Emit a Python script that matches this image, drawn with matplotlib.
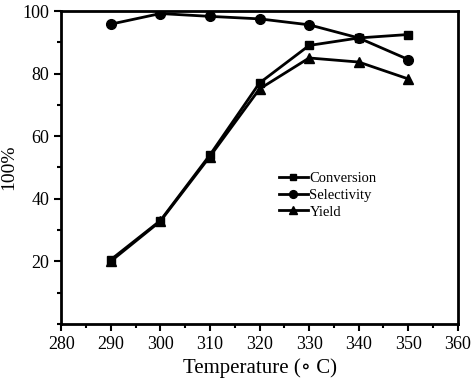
import matplotlib
matplotlib.use('Agg')
import matplotlib.pyplot as plt
from matplotlib.ticker import MultipleLocator

# temperatures (deg C)
temperature = [290, 300, 310, 320, 330, 340, 350]
# percentages
conversion = [20.5, 33.0, 54.0, 77.0, 89.0, 91.4, 92.5]
selectivity = [95.8, 99.2, 98.3, 97.5, 95.6, 91.4, 84.5]
yield_ = [20.0, 32.8, 53.5, 75.1, 85.0, 83.7, 78.3]

plt.rcParams['font.family'] = ['Liberation Serif', 'DejaVu Serif']

fig = plt.figure(figsize=(4.74, 3.81), dpi=100)
ax = fig.add_axes([0.129, 0.15, 0.837, 0.821])

ax.plot(temperature, conversion, color='black', lw=2, marker='s', ms=6, label='Conversion')
ax.plot(temperature, selectivity, color='black', lw=2, marker='o', ms=7, label='Selectivity')
ax.plot(temperature, yield_, color='black', lw=2, marker='^', ms=7, label='Yield')

ax.set_xlim(280, 360)
ax.set_ylim(0, 100)
ax.xaxis.set_major_locator(MultipleLocator(10))
ax.xaxis.set_minor_locator(MultipleLocator(5))
ax.set_yticks([20, 40, 60, 80, 100])
ax.yaxis.set_minor_locator(MultipleLocator(10))
ax.tick_params(which='both', direction='out', top=False, right=False, width=1.5, labelsize=13)
ax.tick_params(which='major', length=5)
ax.tick_params(which='minor', length=3)

for s in ax.spines.values():
    s.set_linewidth(2)

ax.set_xlabel('Temperature (\u2218 C)', fontsize=15)
ax.set_ylabel('100%', fontsize=14)

ax.legend(loc='upper left', bbox_to_anchor=(0.53, 0.51), frameon=False, fontsize=10.5,
          handlelength=2.0, handletextpad=0.1, labelspacing=0.25, borderpad=0,
          markerscale=0.8)

fig.savefig('out.png', dpi=100)
